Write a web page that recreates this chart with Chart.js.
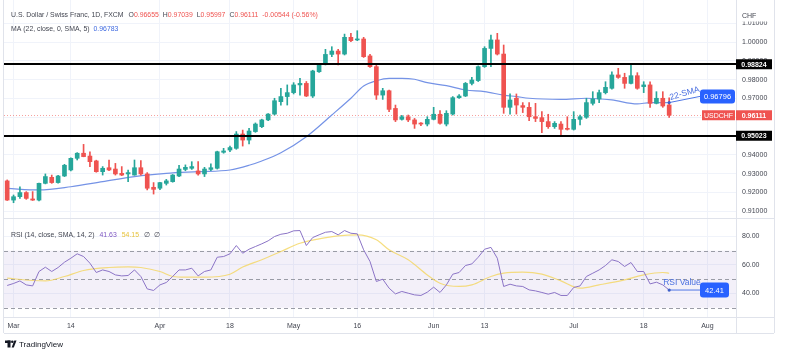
<!DOCTYPE html>
<html>
<head>
<meta charset="utf-8">
<script src="https://cdn.jsdelivr.net/npm/chart.js@4.4.1/dist/chart.umd.min.js"></script>
<style>
  html, body { margin: 0; padding: 0; background: #fff; }
</style>
</head>
<body>
<canvas id="canvas" width="785" height="352"></canvas>
<script>
// USDCHF daily candles, 28 Feb 2022 .. 22 Jul 2022
const opens = [
  .9262,.9160,.9178,.9200,.9166,.9160,.9249,.9281,.9253,.9288,
  .9320,.9382,.9409,.9394,.9368,.9311,.9332,.9325,.9302,.9299,
  .9293,.9332,.9299,.9228,.9223,.9249,.9258,.9288,.9323,.9329,
  .9315,.9299,.9323,.9329,.9414,.9426,.9435,.9511,.9479,.9524,
  .9550,.9586,.9617,.9683,.9710,.9731,.9772,.9780,.9713,.9842,
  .9881,.9934,.9952,.9936,1.0025,1.0011,1.0016,.9926,.9869,.9718,
  .9741,.9647,.9589,.9603,.9586,.9566,.9564,.9589,.9616,.9564,
  .9617,.9704,.9713,.9780,.9795,.9869,.9966,1.0011,.9936,.9653,
  .9701,.9662,.9653,.9603,.9598,.9577,.9550,.9564,.9538,.9536,
  .9589,.9600,.9674,.9697,.9731,.9754,.9825,.9812,.9780,.9821,
  .9763,.9772,.9674,.9701,.96655];
const highs = [
  .9267,.9187,.9231,.9205,.9205,.9250,.9299,.9293,.9292,.9350,
  .9385,.9412,.9456,.9417,.9372,.9338,.9373,.9355,.9338,.9320,
  .9373,.9370,.9306,.9253,.9255,.9270,.9296,.9345,.9347,.9364,
  .9364,.9334,.9352,.9420,.9435,.9447,.9524,.9532,.9541,.9570,
  .9590,.9620,.9701,.9754,.9772,.9784,.9807,.9790,.9850,.9885,
  .9961,.9975,.9961,1.0042,1.0046,1.0060,1.0025,.9934,.9878,.9754,
  .9745,.9665,.9610,.9612,.9594,.9572,.9603,.9653,.9635,.9635,
  .9710,.9720,.9785,.9812,.9873,.9975,1.0037,1.0046,.9984,.9724,
  .9724,.9678,.9678,.9674,.9630,.9616,.9577,.9577,.9603,.9630,
  .9612,.9701,.9736,.9745,.9789,.9842,.9860,.9834,.9881,.9837,
  .9789,.9789,.9736,.9736,.97039];
const lows = [
  .9158,.9146,.9169,.9164,.9158,.9155,.9246,.9249,.9250,.9285,
  .9315,.9373,.9390,.9338,.9308,.9293,.9316,.9293,.9290,.9258,
  .9292,.9293,.9214,.9192,.9215,.9240,.9255,.9285,.9316,.9323,
  .9293,.9285,.9316,.9325,.9409,.9417,.9430,.9447,.9458,.9520,
  .9545,.9582,.9612,.9665,.9665,.9724,.9718,.9710,.9705,.9838,
  .9878,.9922,.9878,.9931,1.0002,1.0007,.9918,.9865,.9695,.9695,
  .9630,.9577,.9585,.9577,.9541,.9555,.9554,.9586,.9564,.9554,
  .9612,.9700,.9710,.9772,.9790,.9865,.9869,.9931,.9621,.9617,
  .9617,.9625,.9582,.9577,.9518,.9541,.9541,.9501,.9532,.9532,
  .9559,.9594,.9665,.9678,.9724,.9749,.9807,.9754,.9777,.9749,
  .9731,.9653,.9671,.9653,.95997];
const closes = [
  .9160,.9178,.9200,.9169,.9160,.9249,.9285,.9253,.9288,.9345,
  .9382,.9409,.9391,.9364,.9311,.9329,.9320,.9299,.9293,.9306,
  .9332,.9299,.9223,.9217,.9253,.9262,.9293,.9325,.9334,.9338,
  .9299,.9325,.9332,.9417,.9421,.9439,.9511,.9479,.9527,.9564,
  .9586,.9617,.9688,.9710,.9731,.9772,.9780,.9713,.9846,.9881,
  .9934,.9952,.9936,1.0025,1.0007,1.0016,.9922,.9869,.9718,.9741,
  .9642,.9586,.9603,.9586,.9564,.9564,.9589,.9616,.9568,.9621,
  .9704,.9713,.9780,.9798,.9869,.9966,1.0011,.9936,.9653,.9692,
  .9665,.9653,.9603,.9594,.9577,.9550,.9568,.9536,.9536,.9589,
  .9603,.9678,.9697,.9731,.9759,.9825,.9812,.9780,.9821,.9754,
  .9772,.9674,.9701,.9660,.96111];

// 22 SMA, read at some bars
const maIdx = [0,5,10,15,20,25,30,35,38,40,43,47,51,54,56,58,60,62,64,66,69,72,75,78,80,82,87,91,95,99,101,104];
const maVal = [.9222,.9214,.9231,.9258,.9285,.9302,.9311,.9320,.9345,.9368,.9412,.9497,.9612,.9701,.9766,.9794,.9807,.9807,.9802,.9784,.9768,.9745,.9736,.9718,.9710,.9701,.9695,.9701,.9692,.9671,.9678,.9678];

// RSI 14
const rsiValues = [
  45.6,47.0,48.8,46.0,45.3,55.4,58.4,55.4,58.2,61.9,
  64.7,67.8,65.9,61.2,54.7,56.5,55.4,53.0,52.3,52.6,
  56.5,51.9,43.2,42.1,46.0,47.7,51.9,56.5,56.5,57.7,
  52.3,55.4,56.5,65.4,65.9,67.8,73.6,68.2,71.0,72.9,
  74.8,76.9,79.9,81.5,82.2,83.9,84.1,73.6,79.2,81.1,
  82.9,83.4,81.1,84.1,82.2,81.8,70.6,62.4,48.4,50.0,
  43.7,39.7,41.4,40.2,39.0,38.6,40.9,44.4,40.7,46.0,
  53.5,54.7,59.6,60.7,65.4,71.0,72.3,64.7,44.9,46.5,
  45.3,44.9,42.5,41.8,40.7,39.5,40.7,38.6,38.6,44.2,
  45.3,51.9,54.2,56.5,59.6,63.6,62.4,58.9,61.7,55.4,
  55.4,46.7,47.9,46.0,42.4];
// SMA of RSI, read at some bars
const rsiMaIdx = [0,4,6,9,12,16,19,21,24,26,28,31,35,37,40,43,46,49,52,55,58,60,63,66,68,71,73,76,78,81,84,87,90,93,97,100,103,104];
const rsiMaVal = [50.7,49.1,48.8,51.9,56.1,58.2,58.6,58.2,55.4,51.9,51.4,51.4,53.5,58.5,63.6,69.4,75.2,78.3,80.4,81.1,77.6,70.6,63.6,53.0,47.2,44.9,46.0,51.9,54.2,54.9,53.5,48.8,43.7,46.0,49.5,53.0,54.7,54.15];

const levels = [0.98824, 0.95023];
const priceTicks = [0.91,0.92,0.93,0.94,0.95,0.96,0.97,0.98,0.99,1.00,1.01];
const rsiTicks = [40, 60, 80];
const tickIdx = [1,10,24,35,45,55,67,75,89,100,110];
const tickText = ['Mar','14','Apr','18','May','16','Jun','13','Jul','18','Aug'];
const smaNoteEnd = 0.9711;
const rsiNote = 42.41;

// trading days (weekdays) incl. empty space on the right
const days = [];
for (let d = new Date(Date.UTC(2022, 1, 28)); days.length < 115; d.setUTCDate(d.getUTCDate() + 1)) {
  const wd = d.getUTCDay();
  if (wd !== 0 && wd !== 6) days.push(d.toISOString().slice(0, 10));
}

const FONT = 'Liberation Sans';
const UP = '#26a69a', DOWN = '#ef5350';
const TXT = '#434651';
const candleColors = opens.map((o, i) => closes[i] >= o ? UP : DOWN);

const maSeries = Array(105).fill(null);
maIdx.forEach((k, j) => maSeries[k] = maVal[j]);
const rsiMaSeries = Array(105).fill(null);
rsiMaIdx.forEach((k, j) => rsiMaSeries[k] = rsiMaVal[j]);

function runText(ctx, x, y, parts) {
  for (const [txt, color, gap] of parts) {
    ctx.fillStyle = color;
    ctx.fillText(txt, x, y);
    x += ctx.measureText(txt).width + (gap || 0);
  }
}

function box(ctx, x, y, w, h, fill, text, r) {
  ctx.fillStyle = fill;
  ctx.beginPath();
  ctx.roundRect(x, y, w, h, r || 0);
  ctx.fill();
  ctx.fillStyle = '#fff';
  ctx.textAlign = 'center';
  ctx.fillText(text, x + w / 2, y + h / 2 + 0.5);
  ctx.textAlign = 'left';
}

// right axis: fixed width, no extra room for half labels
function fitRight(s) {
  s.width = 49;
  s.paddingTop = 0;
  s.paddingBottom = 0;
}

const extras = {
  id: 'extras',
  beforeDatasetsDraw(chart) {
    const { ctx, chartArea: a, scales: { y, rsi } } = chart;
    ctx.save();
    // RSI band
    const t = rsi.getPixelForValue(70), b = rsi.getPixelForValue(30);
    ctx.fillStyle = 'rgba(126,87,194,0.09)';
    ctx.fillRect(a.left, t, a.right - a.left, b - t);
    ctx.strokeStyle = '#9a9ca6';
    ctx.lineWidth = 1;
    ctx.setLineDash([4, 3]);
    [70, 50, 30].forEach(v => {
      const py = Math.round(rsi.getPixelForValue(v)) + 0.5;
      ctx.beginPath(); ctx.moveTo(a.left, py); ctx.lineTo(a.right, py); ctx.stroke();
    });
    // last price dotted line
    ctx.strokeStyle = 'rgba(239,83,80,0.55)';
    ctx.setLineDash([1, 2]);
    const cy = Math.round(y.getPixelForValue(closes[closes.length - 1])) + 0.5;
    ctx.beginPath(); ctx.moveTo(a.left, cy); ctx.lineTo(a.right, cy); ctx.stroke();
    ctx.restore();
  },
  afterDatasetsDraw(chart) {
    const { ctx, chartArea: a, scales: { y } } = chart;
    ctx.save();
    ctx.strokeStyle = '#000';
    ctx.lineWidth = 2;
    levels.forEach(v => {
      const py = Math.round(y.getPixelForValue(v));
      ctx.beginPath(); ctx.moveTo(a.left, py); ctx.lineTo(a.right, py); ctx.stroke();
    });
    ctx.restore();
  },
  afterDraw(chart) {
    const { ctx, chartArea: a, scales: { x, y, rsi } } = chart;
    ctx.save();
    // frame lines
    ctx.strokeStyle = '#e0e3eb';
    ctx.lineWidth = 1;
    const sep = Math.round(y.bottom) + 0.5;
    ctx.beginPath();
    ctx.moveTo(a.left, sep); ctx.lineTo(774, sep);
    ctx.moveTo(a.left, a.bottom + 0.5); ctx.lineTo(774, a.bottom + 0.5);
    ctx.moveTo(a.left, 333.5); ctx.lineTo(774, 333.5);
    ctx.moveTo(a.right + 0.5, 0); ctx.lineTo(a.right + 0.5, 333);
    ctx.moveTo(774.5, 0); ctx.lineTo(774.5, 333);
    ctx.moveTo(3.5, 0); ctx.lineTo(3.5, 333);
    ctx.stroke();

    ctx.textBaseline = 'middle';
    ctx.font = '7px ' + FONT;
    // axis currency
    ctx.fillStyle = '#fff';
    ctx.fillRect(a.right + 1, 0, 37, 21.5);
    ctx.fillStyle = TXT;
    ctx.fillText('CHF', 742, 16);

    // header lines
    const red = '#ef5350';
    ctx.font = '6.9px ' + FONT;
    runText(ctx, 11, 15, [
      ['U.S. Dollar / Swiss Franc, 1D, FXCM', TXT, 5],
      ['O', TXT], ['0.96655', red, 4], ['H', TXT], ['0.97039', red, 4],
      ['L', TXT], ['0.95997', red, 4], ['C', TXT], ['0.96111', red, 4],
      ['-0.00544 (-0.56%)', red]
    ]);
    runText(ctx, 11, 29, [['MA (22, close, 0, SMA, 5)', TXT, 4], ['0.96783', '#3f6ae0']]);
    runText(ctx, 11, 235, [
      ['RSI (14, close, SMA, 14, 2)', TXT, 5], ['41.63', '#7e57c2', 5],
      ['54.15', '#e8c33a', 5], ['\u2205', TXT, 4], ['\u2205', TXT]
    ]);

    // level labels on the axis
    ctx.font = 'bold 7px ' + FONT;
    levels.forEach(v => {
      const py = y.getPixelForValue(v);
      box(ctx, a.right, py - 5, 36, 10, '#000', v.toFixed(5));
    });
    const last = closes[closes.length - 1];
    const ly = y.getPixelForValue(last);
    box(ctx, a.right, ly - 5, 36, 10, red, last.toFixed(5));
    ctx.font = '7px ' + FONT;
    box(ctx, a.right - 34, ly - 5, 33, 10, red, 'USDCHF');

    // 22-SMA note
    const blue = '#2962ff';
    const x0 = x.getPixelForValue(104);
    const s0 = y.getPixelForValue(maVal[maVal.length - 1]);
    const s1 = y.getPixelForValue(smaNoteEnd);
    const bx = a.right - 36;
    ctx.strokeStyle = '#4f77e6';
    ctx.lineWidth = 1;
    ctx.beginPath(); ctx.moveTo(x0, s0); ctx.lineTo(bx, s1); ctx.stroke();
    ctx.fillStyle = '#3d5fc8';
    ctx.beginPath(); ctx.arc(x0, s0, 1.6, 0, Math.PI * 2); ctx.fill();
    const ang = Math.atan2(s1 - s0, bx - x0) * 1.4;
    ctx.save();
    ctx.translate((x0 + bx) / 2, (s0 + s1) / 2 - 6);
    ctx.rotate(ang);
    ctx.font = '8.5px ' + FONT;
    ctx.fillStyle = '#4a6fe0';
    ctx.textAlign = 'center';
    ctx.fillText('22-SMA', 0, 0);
    ctx.restore();
    ctx.font = '7.5px ' + FONT;
    box(ctx, bx, s1 - 7, 35, 14, blue, '0.96796', 3);

    // RSI value note
    const r0 = rsi.getPixelForValue(rsiValues[rsiValues.length - 1]);
    ctx.strokeStyle = '#4f77e6';
    ctx.beginPath(); ctx.moveTo(x0, r0); ctx.lineTo(bx, r0); ctx.stroke();
    ctx.fillStyle = '#3d5fc8';
    ctx.beginPath(); ctx.arc(x0, r0, 1.6, 0, Math.PI * 2); ctx.fill();
    ctx.font = '8.5px ' + FONT;
    ctx.fillStyle = '#4a6fe0';
    ctx.fillText('RSI Value', x0 - 6, r0 - 7);
    ctx.font = '7.5px ' + FONT;
    box(ctx, bx, r0 - 7.5, 29, 15, blue, rsiNote.toFixed(2), 3);

    // logo
    ctx.fillStyle = '#131722';
    ctx.fillRect(5, 340.5, 5.5, 2.5);
    ctx.fillRect(7.5, 340.5, 3, 7);
    ctx.beginPath(); ctx.arc(12.3, 341.8, 1.3, 0, Math.PI * 2); ctx.fill();
    ctx.beginPath(); ctx.moveTo(14.3, 340.5); ctx.lineTo(16.5, 340.5); ctx.lineTo(13.8, 347.5); ctx.lineTo(11.6, 347.5); ctx.fill();
    ctx.font = '8px ' + FONT;
    ctx.fillText('TradingView', 19, 344.5);
    ctx.restore();
  }
};

new Chart(document.getElementById('canvas'), {
  data: {
    labels: days,
    datasets: [
      { type: 'bar', data: opens.map((o, i) => [o, closes[i]]), backgroundColor: candleColors,
        barThickness: 4, minBarLength: 1, grouped: false, yAxisID: 'y', order: 0 },
      { type: 'bar', data: lows.map((l, i) => [l, highs[i]]), backgroundColor: candleColors,
        barThickness: 1, grouped: false, yAxisID: 'y', order: 1 },
      { type: 'line', data: maSeries, borderColor: '#7593e6', borderWidth: 1.2, pointRadius: 0,
        spanGaps: true, cubicInterpolationMode: 'monotone', yAxisID: 'y', order: 2 },
      { type: 'line', data: rsiMaSeries, borderColor: 'rgba(244,214,96,0.8)', borderWidth: 1.2, pointRadius: 0,
        spanGaps: true, cubicInterpolationMode: 'monotone', yAxisID: 'rsi', order: 4 },
      { type: 'line', data: rsiValues, borderColor: '#8b74c6', borderWidth: 1, pointRadius: 0,
        yAxisID: 'rsi', order: 3 }
    ]
  },
  options: {
    responsive: false,
    animation: false,
    devicePixelRatio: 1,
    layout: { padding: { left: 4, top: 0, right: 0, bottom: 19 } },
    plugins: { legend: { display: false }, tooltip: { enabled: false } },
    scales: {
      x: {
        type: 'category', offset: true,
        grid: { color: '#f0f3fa', offset: false, drawTicks: false },
        border: { display: false },
        ticks: { autoSkip: false, maxRotation: 0, padding: 5, color: TXT,
          font: { family: FONT, size: 7 }, callback: (v, i) => tickText[i] },
        afterBuildTicks: s => { s.ticks = tickIdx.map(v => ({ value: v })); },
        afterFit: s => { s.height = 16; s.paddingLeft = 0; s.paddingRight = 0; }
      },
      y: {
        type: 'linear', axis: 'y', position: 'right', stack: 'panes', stackWeight: 218,
        min: 0.90648, max: 1.02232,
        grid: { color: '#f0f3fa', drawTicks: false },
        border: { display: false },
        ticks: { autoSkip: false, padding: 6, color: TXT, font: { family: FONT, size: 7 }, callback: v => v.toFixed(5) },
        afterBuildTicks: s => { s.ticks = priceTicks.map(v => ({ value: v })); },
        afterFit: fitRight
      },
      rsi: {
        type: 'linear', axis: 'y', position: 'right', stack: 'panes', stackWeight: 99,
        min: 23.5, max: 92.9,
        grid: { color: '#f0f3fa', drawTicks: false },
        border: { display: false },
        ticks: { autoSkip: false, padding: 6, color: TXT, font: { family: FONT, size: 7 }, callback: v => v.toFixed(2) },
        afterBuildTicks: s => { s.ticks = rsiTicks.map(v => ({ value: v })); },
        afterFit: fitRight
      }
    }
  },
  plugins: [extras]
});
</script>
</body>
</html>
